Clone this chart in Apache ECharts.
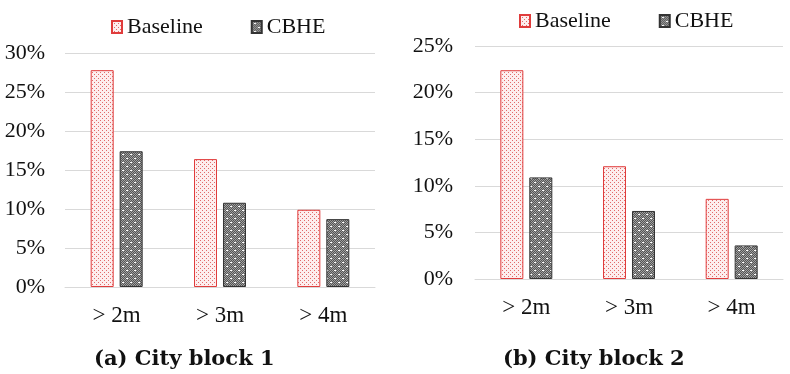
<!DOCTYPE html>
<html>
<head>
<meta charset="utf-8">
<script src="https://cdn.jsdelivr.net/npm/echarts@6/dist/echarts.min.js"></script>
<style>
    html, body { margin: 0; padding: 0; background: #fff; }
    #chart { width: 790px; height: 374px; }
</style>
</head>
<body>
<div id="chart"></div>
<script>
// 数据
var categories = ['> 2m', '> 3m', '> 4m'];
var yTicks = [0, 5, 10, 15, 20, 25, 30];
var block1Baseline = [27.8, 16.4, 9.9];
var block1Cbhe = [17.4, 10.8, 8.7];
var block2Baseline = [22.4, 12.1, 8.6];
var block2Cbhe = [10.9, 7.3, 3.6];
var seriesNames = ['Baseline', 'CBHE'];
var captions = ['(a) City block 1', '(b) City block 2'];

var fontFamily = '"Liberation Serif", "Times New Roman", serif';
var captionFont = '"DejaVu Serif", serif';

// 纹理填充
function makePattern(size, draw) {
    var c = document.createElement('canvas');
    c.width = size;
    c.height = size;
    draw(c.getContext('2d'));
    return { image: c, repeat: 'repeat' };
}

var baselineFill = makePattern(4, function (ctx) {
    ctx.fillStyle = '#fdeeee';
    ctx.fillRect(0, 0, 4, 4);
    ctx.fillStyle = '#e26a6a';
    ctx.fillRect(0, 0, 1, 1);
    ctx.fillRect(2, 2, 1, 1);
});

var cbheFill = makePattern(8, function (ctx) {
    for (var i = 0; i < 8; i++) {
        for (var j = 0; j < 8; j++) {
            ctx.fillStyle = (i + j) % 2 ? '#555555' : '#a0a0a0';
            ctx.fillRect(i, j, 1, 1);
        }
    }
    ctx.fillStyle = '#ffffff';
    ctx.fillRect(2, 2, 2, 1);
    ctx.fillRect(6, 6, 2, 1);
});

var styles = {
    Baseline: { color: baselineFill, borderColor: '#e03c3c', borderWidth: 1 },
    CBHE: { color: cbheFill, borderColor: '#333333', borderWidth: 1 }
};

function axisX(gridIndex, margin) {
    return {
        type: 'category',
        gridIndex: gridIndex,
        data: categories,
        axisLine: { lineStyle: { color: '#d9d9d9' } },
        axisTick: { show: false },
        axisLabel: { color: '#111', fontFamily: fontFamily, fontSize: 23, margin: margin }
    };
}

function axisY(gridIndex, max, margin) {
    return {
        type: 'value',
        gridIndex: gridIndex,
        min: 0,
        max: max,
        interval: yTicks[1] - yTicks[0],
        axisLine: { show: false },
        axisTick: { show: false },
        splitLine: { lineStyle: { color: '#d9d9d9' } },
        axisLabel: { color: '#111', fontFamily: fontFamily, fontSize: 22, margin: margin, formatter: '{value}%' }
    };
}

function barSeries(name, idx, data) {
    return {
        name: name,
        type: 'bar',
        xAxisIndex: idx,
        yAxisIndex: idx,
        barWidth: 23,
        barGap: '26%',
        itemStyle: styles[name],
        data: data
    };
}

function legendAt(left, top) {
    return {
        left: left,
        top: top,
        icon: 'rect',
        itemWidth: 10,
        itemHeight: 12,
        itemGap: 48,
        data: seriesNames,
        textStyle: { color: '#111', fontFamily: fontFamily, fontSize: 22 },
        selectedMode: false
    };
}

var myChart = echarts.init(document.getElementById('chart'));
var option = {
    backgroundColor: '#fff',
    animation: false,
    title: [{
        text: captions[0], left: 89, top: 344,
        textStyle: { fontFamily: captionFont, fontSize: 21, fontWeight: 'bold', color: '#111' }
    }, {
        text: captions[1], left: 498, top: 344,
        textStyle: { fontFamily: captionFont, fontSize: 21, fontWeight: 'bold', color: '#111' }
    }],
    legend: [legendAt(106, 11), legendAt(514, 5)],
    grid: [
        { left: 65, top: 53, width: 310, height: 234 },
        { left: 475, top: 46, width: 308, height: 233 }
    ],
    xAxis: [axisX(0, 17), axisX(1, 17)],
    yAxis: [axisY(0, 30, 20), axisY(1, 25, 22)],
    series: [
        barSeries('Baseline', 0, block1Baseline),
        barSeries('CBHE', 0, block1Cbhe),
        barSeries('Baseline', 1, block2Baseline),
        barSeries('CBHE', 1, block2Cbhe)
    ]
};
myChart.setOption(option, true);
window.onresize = myChart.resize;
</script>
</body>
</html>
